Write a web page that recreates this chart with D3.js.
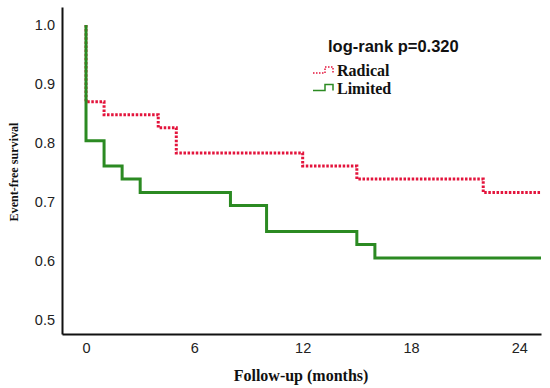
<!DOCTYPE html>
<html>
<meta charset="utf-8">
<head>
    <script src="https://d3js.org/d3.v7.min.js"></script>
    <style>
        body { margin: 0; background: #fff; }
        svg { display: block; }
    </style>
</head>
<body>
<div id="chart"></div>
<script>

// ++++++++++++++++++++++++++++++++++++++++++++++++++++++
//  data (Kaplan-Meier steps)

var radicalTimes  = [0, 0, 1, 4, 5, 12, 15, 22];
var radicalSurv   = [1.0, 0.870, 0.848, 0.826, 0.783, 0.761, 0.739, 0.716];
var limitedTimes  = [0, 0, 1, 2, 3, 8, 10, 15, 16];
var limitedSurv   = [1.0, 0.804, 0.761, 0.739, 0.716, 0.694, 0.650, 0.628, 0.605];
var xTicks = [0, 6, 12, 18, 24];
var yTicks = [0.5, 0.6, 0.7, 0.8, 0.9, 1.0];
var seriesNames = ["Radical", "Limited"];
var pValueLabel = "log-rank p=0.320";

var width = 550, height = 388;
var xMin = -1.33, xMax = 25.2;

var svg = d3.select("#chart").append("svg")
    .attr("width", width)
    .attr("height", height);

var x = d3.scaleLinear().domain([xMin, xMax]).range([62, 541]);
var y = d3.scaleLinear().domain([0.4763, 1.0305]).range([334, 7]);

// axes
var xAxis = svg.append("g")
    .attr("transform", "translate(0," + y(0.4763) + ")")
    .call(d3.axisBottom(x).tickValues(xTicks).tickSize(0).tickPadding(9));
var yAxis = svg.append("g")
    .attr("transform", "translate(" + x(xMin) + ",0)")
    .call(d3.axisLeft(y).tickValues(yTicks).tickSize(0).tickPadding(7)
        .tickFormat(d3.format(".1f")));

[xAxis, yAxis].forEach(function(a){
    a.select(".domain").attr("stroke", "#111").attr("stroke-width", 2);
    a.selectAll("text")
        .attr("font-family", "'Liberation Sans', Arial, sans-serif")
        .attr("font-size", 14.5)
        .attr("fill", "#222");
});

// axis titles
svg.append("text")
    .attr("x", 301).attr("y", 381)
    .attr("text-anchor", "middle")
    .attr("font-family", "'Liberation Serif', 'Times New Roman', serif")
    .attr("font-weight", "bold")
    .attr("font-size", 16)
    .attr("fill", "#111")
    .text("Follow-up (months)");

svg.append("text")
    .attr("transform", "translate(18,172) rotate(-90)")
    .attr("text-anchor", "middle")
    .attr("font-family", "'Liberation Serif', 'Times New Roman', serif")
    .attr("font-weight", "bold")
    .attr("font-size", 13)
    .attr("fill", "#111")
    .attr("textLength", 99)
    .attr("lengthAdjust", "spacingAndGlyphs")
    .text("Event-free survival");

// ++++++++++++++++++++++++++++++++++++++++++++++++++++++
//  survival curves

function steps(times, surv) {
    var pts = times.map(function(t, i){ return [t, surv[i]]; });
    pts.push([xMax, surv[surv.length - 1]]);
    return pts;
}

var line = d3.line()
    .x(function(d){ return x(d[0]); })
    .y(function(d){ return y(d[1]); })
    .curve(d3.curveStepAfter);

var styles = [
    { color: "#e3143c", dash: "2.5,1.6", width: 3 },
    { color: "#2b8a22", dash: null, width: 3 }
];

svg.append("path")
    .datum(steps(radicalTimes, radicalSurv))
    .attr("d", line)
    .attr("fill", "none")
    .attr("stroke", styles[0].color)
    .attr("stroke-width", styles[0].width)
    .attr("stroke-dasharray", styles[0].dash);

svg.append("path")
    .datum(steps(limitedTimes, limitedSurv))
    .attr("d", line)
    .attr("fill", "none")
    .attr("stroke", styles[1].color)
    .attr("stroke-width", styles[1].width);

// ++++++++++++++++++++++++++++++++++++++++++++++++++++++
//  legend

svg.append("text")
    .attr("x", 328).attr("y", 52)
    .attr("font-family", "'Liberation Sans', Arial, sans-serif")
    .attr("font-weight", "bold")
    .attr("font-size", 16.5)
    .attr("fill", "#111")
    .text(pValueLabel);

var legend = svg.selectAll(".legend")
    .data(seriesNames)
    .enter()
    .append("g")
    .attr("class", "legend")
    .attr("transform", function(d, i){ return "translate(313," + (73 + i * 17.5) + ")"; });

legend.append("path")
    .attr("d", "M0,0 H12 V-6 H20 V0")
    .attr("fill", "none")
    .attr("stroke", function(d, i){ return styles[i].color; })
    .attr("stroke-width", 1.5)
    .attr("stroke-dasharray", function(d, i){ return i === 0 ? "1.5,1.5" : null; });

legend.append("text")
    .attr("x", 24).attr("y", 3)
    .attr("font-family", "'Liberation Serif', 'Times New Roman', serif")
    .attr("font-weight", "bold")
    .attr("font-size", 16)
    .attr("fill", "#111")
    .text(function(d){ return d; });

</script>
</body>
</html>
